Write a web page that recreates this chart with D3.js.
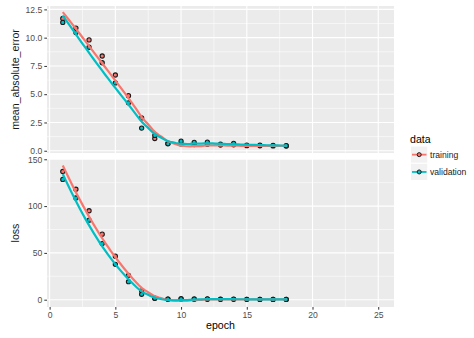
<!DOCTYPE html>
<html><head><meta charset="utf-8">
<script src="https://cdn.jsdelivr.net/npm/d3@7"></script>
<style>body{margin:0;background:#fff}svg{display:block}</style>
</head><body>
<script>
const epochs = [1,2,3,4,5,6,7,8,9,10,11,12,13,14,15,16,17,18];
const maeTraining   = [11.7,10.85,9.8,8.38,6.7,4.87,2.9,1.08,0.65,0.6,0.55,0.58,0.5,0.52,0.45,0.44,0.43,0.42];
const maeValidation = [11.35,10.45,9.15,7.78,6.0,4.24,2.0,1.35,0.62,0.85,0.74,0.76,0.59,0.65,0.5,0.5,0.48,0.45];
const lossTraining   = [137,118,95,70,46.5,26,9.5,1.6,0.7,0.5,0.45,0.5,0.4,0.42,0.35,0.33,0.32,0.3];
const lossValidation = [128.5,108.7,85,60,37.8,19.2,5.8,1.5,0.6,1.0,0.8,0.85,0.55,0.65,0.42,0.4,0.38,0.35];
const seriesNames = ["training","validation"];
const metricNames = ["mean_absolute_error","loss"];
const xTicks = [0,5,10,15,20,25];
const xMinor = [2.5,7.5,12.5,17.5,22.5];
const maeTicks = [0,2.5,5,7.5,10,12.5];
const maeMinor = [1.25,3.75,6.25,8.75,11.25];
const lossTicks = [0,50,100,150];
const lossMinor = [25,75,125];

const colors = {training:"#F8766D", validation:"#00BFC4"};
const W = 474, H = 338;
const svg = d3.select("body").append("svg").attr("width",W).attr("height",H);
const font = "Liberation Sans, Arial, sans-serif";

const px0 = 47, px1 = 394;
const x = d3.scaleLinear().domain([-0.2, 26.2]).range([px0, px1]);

function loess(xs, ys, span, xout){
  const n = xs.length, q = Math.floor(n*span);
  return xout.map(x0=>{
    const d = xs.map(v=>Math.abs(v-x0)).slice().sort((a,b)=>a-b);
    let dmax = d[q-1]; if (dmax<=0) dmax = 1e-9;
    let S = [[0,0,0],[0,0,0],[0,0,0]], b=[0,0,0];
    for (let i=0;i<n;i++){
      const u = Math.abs(xs[i]-x0)/dmax;
      const w = u<1 ? Math.pow(1-u*u*u,3) : 0;
      if (w===0) continue;
      const t = xs[i]-x0, f=[1,t,t*t];
      for (let r=0;r<3;r++){ b[r]+=w*f[r]*ys[i]; for(let c=0;c<3;c++) S[r][c]+=w*f[r]*f[c]; }
    }
    const A = S.map((row,i)=>row.concat([b[i]]));
    for (let i=0;i<3;i++){
      let p=i; for(let k=i+1;k<3;k++) if(Math.abs(A[k][i])>Math.abs(A[p][i])) p=k;
      [A[i],A[p]]=[A[p],A[i]];
      for(let k=i+1;k<3;k++){ const m=A[k][i]/A[i][i]; for(let c=i;c<4;c++) A[k][c]-=m*A[i][c]; }
    }
    const sol=[0,0,0];
    for(let i=2;i>=0;i--){ let s=A[i][3]; for(let c=i+1;c<3;c++) s-=A[i][c]*sol[c]; sol[i]=s/A[i][i]; }
    return sol[0];
  });
}

const panels = [
  {name:metricNames[0], top:6, bottom:153, domain:[-0.2,12.8], ticks:maeTicks, minor:maeMinor,
   fmt:d3.format(".1f"), data:{training:maeTraining, validation:maeValidation}},
  {name:metricNames[1], top:159, bottom:307, domain:[-7.8,150.3], ticks:lossTicks, minor:lossMinor,
   fmt:d3.format("d"), data:{training:lossTraining, validation:lossValidation}}
];

const xs = d3.range(80).map(i=>1+i*(17/79));

panels.forEach((p,pi)=>{
  const y = d3.scaleLinear().domain(p.domain).range([p.bottom,p.top]);
  const g = svg.append("g");
  const clipId = "clip"+pi;
  svg.append("clipPath").attr("id",clipId).append("rect")
    .attr("x",px0).attr("y",p.top).attr("width",px1-px0).attr("height",p.bottom-p.top);
  g.append("rect").attr("x",px0).attr("y",p.top).attr("width",px1-px0).attr("height",p.bottom-p.top).attr("fill","#EBEBEB");
  g.selectAll(".vmin").data(xMinor).join("line").attr("x1",d=>x(d)).attr("x2",d=>x(d)).attr("y1",p.top).attr("y2",p.bottom).attr("stroke","#fff").attr("stroke-width",0.55);
  g.selectAll(".hmin").data(p.minor).join("line").attr("x1",px0).attr("x2",px1).attr("y1",d=>y(d)).attr("y2",d=>y(d)).attr("stroke","#fff").attr("stroke-width",0.55);
  g.selectAll(".vmaj").data(xTicks).join("line").attr("x1",d=>x(d)).attr("x2",d=>x(d)).attr("y1",p.top).attr("y2",p.bottom).attr("stroke","#fff").attr("stroke-width",1.1);
  g.selectAll(".hmaj").data(p.ticks).join("line").attr("x1",px0).attr("x2",px1).attr("y1",d=>y(d)).attr("y2",d=>y(d)).attr("stroke","#fff").attr("stroke-width",1.1);

  const ya = svg.append("g").attr("transform",`translate(${px0},0)`)
    .call(d3.axisLeft(y).tickValues(p.ticks).tickFormat(p.fmt).tickSize(2.7).tickPadding(2));
  ya.select(".domain").remove();
  ya.selectAll("line").attr("stroke","#333");
  ya.selectAll("text").attr("fill","#4D4D4D").style("font-family",font).style("font-size","8.6px");

  svg.append("text").attr("transform",`translate(18.5,${(p.top+p.bottom)/2}) rotate(-90)`)
    .attr("text-anchor","middle").attr("fill","#1A1A1A").style("font-family",font).style("font-size","10.6px").text(p.name);

  const pg = svg.append("g").attr("clip-path",`url(#${clipId})`);
  seriesNames.forEach(s=>{
    pg.selectAll(null).data(epochs.map((e,i)=>[e,p.data[s][i]])).join("circle")
      .attr("cx",d=>x(d[0])).attr("cy",d=>y(d[1])).attr("r",2.1)
      .attr("fill",colors[s]).attr("stroke","#1a1a1a").attr("stroke-width",1.1);
  });
  seriesNames.forEach(s=>{
    const fit = loess(epochs, p.data[s], 0.75, xs);
    pg.append("path").datum(xs.map((v,i)=>[v,fit[i]]))
      .attr("d", d3.line().x(d=>x(d[0])).y(d=>y(d[1])))
      .attr("fill","none").attr("stroke",colors[s]).attr("stroke-width",2.2);
  });
});

const xa = svg.append("g").attr("transform",`translate(0,307)`)
  .call(d3.axisBottom(x).tickValues(xTicks).tickFormat(d3.format("d")).tickSize(2.7).tickPadding(2));
xa.select(".domain").remove();
xa.selectAll("line").attr("stroke","#333");
xa.selectAll("text").attr("fill","#4D4D4D").style("font-family",font).style("font-size","8.6px");

svg.append("text").attr("x",(px0+px1)/2).attr("y",329).attr("text-anchor","middle")
  .attr("fill","#000").style("font-family",font).style("font-size","10.6px").text("epoch");

const lg = svg.append("g");
lg.append("text").attr("x",410).attr("y",143).attr("fill","#000").style("font-family",font).style("font-size","10.6px").text("data");
seriesNames.forEach((s,i)=>{
  const ky = 146 + i*17.3;
  lg.append("rect").attr("x",410.5).attr("y",ky).attr("width",17.3).attr("height",17.3).attr("fill","#F2F2F2").attr("stroke","#fff").attr("stroke-width",1);
  lg.append("line").attr("x1",412).attr("x2",426.5).attr("y1",ky+8.65).attr("y2",ky+8.65).attr("stroke",colors[s]).attr("stroke-width",1.8);
  lg.append("circle").attr("cx",419.2).attr("cy",ky+8.65).attr("r",2).attr("fill",colors[s]).attr("stroke","#1a1a1a").attr("stroke-width",1);
  lg.append("text").attr("x",430).attr("y",ky+8.65).attr("dy","0.35em").attr("fill","#1A1A1A").style("font-family",font).style("font-size","8.6px").text(s);
});
</script>
</body></html>
